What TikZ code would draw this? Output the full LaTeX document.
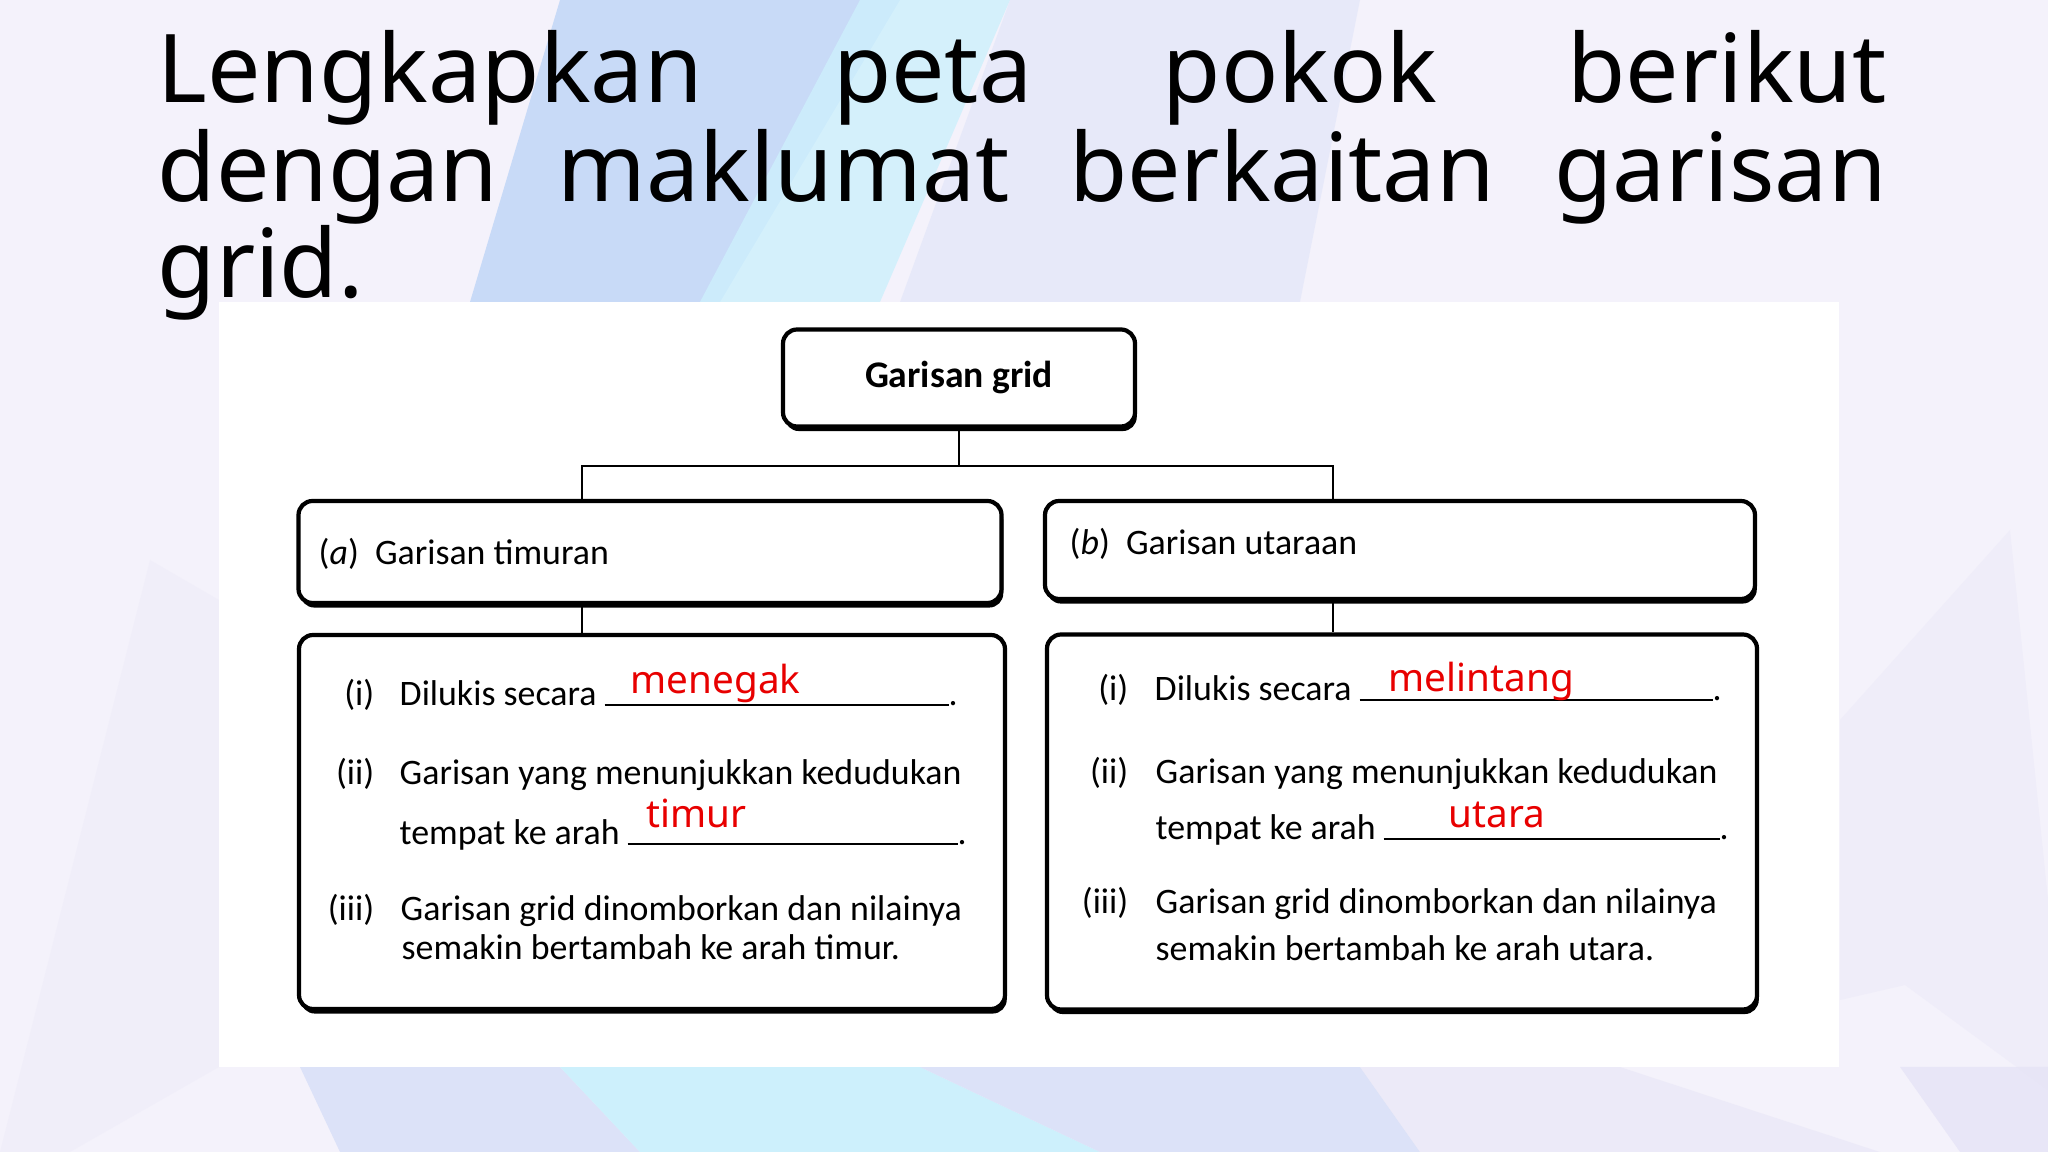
\documentclass[tikz,border=0pt]{standalone}
\usepackage{fontspec}
\setmainfont{Carlito}
\newfontfamily\titlefont{Noto Sans}
\usetikzlibrary{shadows}

\definecolor{ansred}{RGB}{232,0,0}
\definecolor{bgbase}{RGB}{244,242,251}
\definecolor{shardblue}{RGB}{190,213,246}
\definecolor{shardcyan}{RGB}{205,240,252}
\definecolor{shardlav}{RGB}{220,226,248}
\definecolor{shardlil}{RGB}{230,228,246}

\tikzset{
  mapbox/.style={rectangle, draw=black, line width=1.2pt, rounded corners=4pt, fill=white,
    drop shadow={shadow xshift=0.5pt, shadow yshift=-1.3pt, opacity=1, fill=black}},
  itemtxt/.style={anchor=base west, inner sep=0pt, font=\fontsize{10.2}{12}\selectfont},
  itemlbl/.style={anchor=base east, inner sep=0pt, font=\fontsize{10.2}{12}\selectfont},
  answer/.style={anchor=base west, inner sep=0pt, text=ansred, font=\titlefont\fontsize{11}{13}\selectfont},
  joinline/.style={line width=0.6pt},
  titleline/.style={anchor=base west, inner sep=0pt, font=\titlefont\fontsize{27}{28}\selectfont}
}

\begin{document}
\begin{tikzpicture}[x=0.1mm, y=-0.1mm]
\useasboundingbox (0,0) rectangle (2048,1152);

% background
\fill[bgbase] (0,0) rectangle (2048,1152);
\fill[shardblue, opacity=0.8] (560,0) -- (900,0) -- (720,302) -- (470,302) -- cycle;
\fill[shardcyan, opacity=0.8] (860,0) -- (1010,0) -- (880,302) -- (700,302) -- cycle;
\fill[shardlav, opacity=0.5] (1010,0) -- (1360,0) -- (1300,302) -- (900,302) -- cycle;
\fill[shardlav] (300,1067) -- (560,1067) -- (640,1152) -- (340,1152) -- cycle;
\fill[shardcyan] (560,1067) -- (920,1067) -- (1100,1152) -- (640,1152) -- cycle;
\fill[shardlav] (920,1067) -- (1360,1067) -- (1420,1152) -- (1100,1152) -- cycle;
\fill[shardlil, opacity=0.5] (1360,1067) -- (1620,1067) -- (1880,1152) -- (1420,1152) -- cycle;
\fill[shardlil, opacity=0.8] (1900,1067) -- (2048,1067) -- (2048,1152) -- (1960,1152) -- cycle;
\fill[shardlil, opacity=0.35] (1840,1000) -- (1905,985) -- (2048,1090) -- (2048,900) -- (2010,530) -- (1840,720) -- cycle;
\fill[shardlil, opacity=0.25] (150,560) -- (219,600) -- (219,1067) -- (70,1152) -- (0,1152) -- cycle;

% title
\node[titleline] (title1) at (157,103) {\makebox[17.29cm][s]{Lengkapkan peta pokok berikut}};
\node[titleline] (title2) at (157,202) {\makebox[17.29cm][s]{dengan maklumat berkaitan garisan}};
\node[titleline] (title3) at (157,298) {grid.};

% white panel
\fill[white] (219,302) rectangle (1839,1067);

% boxes
\node[mapbox, minimum width=3.52cm, minimum height=0.97cm,
      font=\bfseries\fontsize{10.7}{13}\selectfont] (root) at (959,378) {Garisan grid};
\node[mapbox, minimum width=7.03cm, minimum height=1.02cm] (boxa) at (650,552) {};
\node[mapbox, minimum width=7.1cm, minimum height=0.98cm] (boxb) at (1400,550) {};
\node[mapbox, minimum width=7.06cm, minimum height=3.74cm] (lista) at (652,822) {};
\node[mapbox, minimum width=7.1cm, minimum height=3.75cm] (listb) at (1402,822) {};

\node[itemtxt] (boxatxt) at (318,565) {(\textit{a})\hspace{0.45em}Garisan timuran};
\node[itemtxt] (boxbtxt) at (1069,555) {(\textit{b})\hspace{0.45em}Garisan utaraan};

% connectors
\coordinate (busa) at (582,466);
\coordinate (busb) at (1333,466);
\draw[joinline] (root.south) -- (root.south |- busa);
\draw[joinline] (boxa.north -| busa) -- (busa) -- (busb) -- (boxb.north -| busb);
\draw[joinline] (boxa.south -| busa) -- (lista.north -| busa);
\draw[joinline] (boxb.south -| busb) -- (listb.north -| busb);

% left list
\node[itemlbl] (ai-l) at (375,706) {(i)};
\node[itemtxt] (ai) at (399,706) {Dilukis secara \rule{3.44cm}{0.6pt}.};
\node[answer] (ai-ans) at (630,694) {menegak};
\node[itemlbl] (aii-l) at (375,785) {(ii)};
\node[itemtxt] (aii) at (399,785) {Garisan yang menunjukkan kedudukan};
\node[itemtxt] (aii2) at (399,845) {tempat ke arah \rule{3.3cm}{0.6pt}.};
\node[answer] (aii-ans) at (646,828) {timur};
\node[itemlbl] (aiii-l) at (375,921) {(iii)};
\node[itemtxt] (aiii) at (400,921) {Garisan grid dinomborkan dan nilainya};
\node[itemtxt] (aiii2) at (401,960) {semakin bertambah ke arah timur.};

% right list
\node[itemlbl] (bi-l) at (1129,701) {(i)};
\node[itemtxt] (bi) at (1154,701) {Dilukis secara \rule{3.53cm}{0.6pt}.};
\node[answer] (bi-ans) at (1388,692) {melintang};
\node[itemlbl] (bii-l) at (1129,784) {(ii)};
\node[itemtxt] (bii) at (1155,784) {Garisan yang menunjukkan kedudukan};
\node[itemtxt] (bii2) at (1155,840) {tempat ke arah \rule{3.36cm}{0.6pt}.};
\node[answer] (bii-ans) at (1448,828) {utara};
\node[itemlbl] (biii-l) at (1129,914) {(iii)};
\node[itemtxt] (biii) at (1155,914) {Garisan grid dinomborkan dan nilainya};
\node[itemtxt] (biii2) at (1155,961) {semakin bertambah ke arah utara.};

\end{tikzpicture}
\end{document}
